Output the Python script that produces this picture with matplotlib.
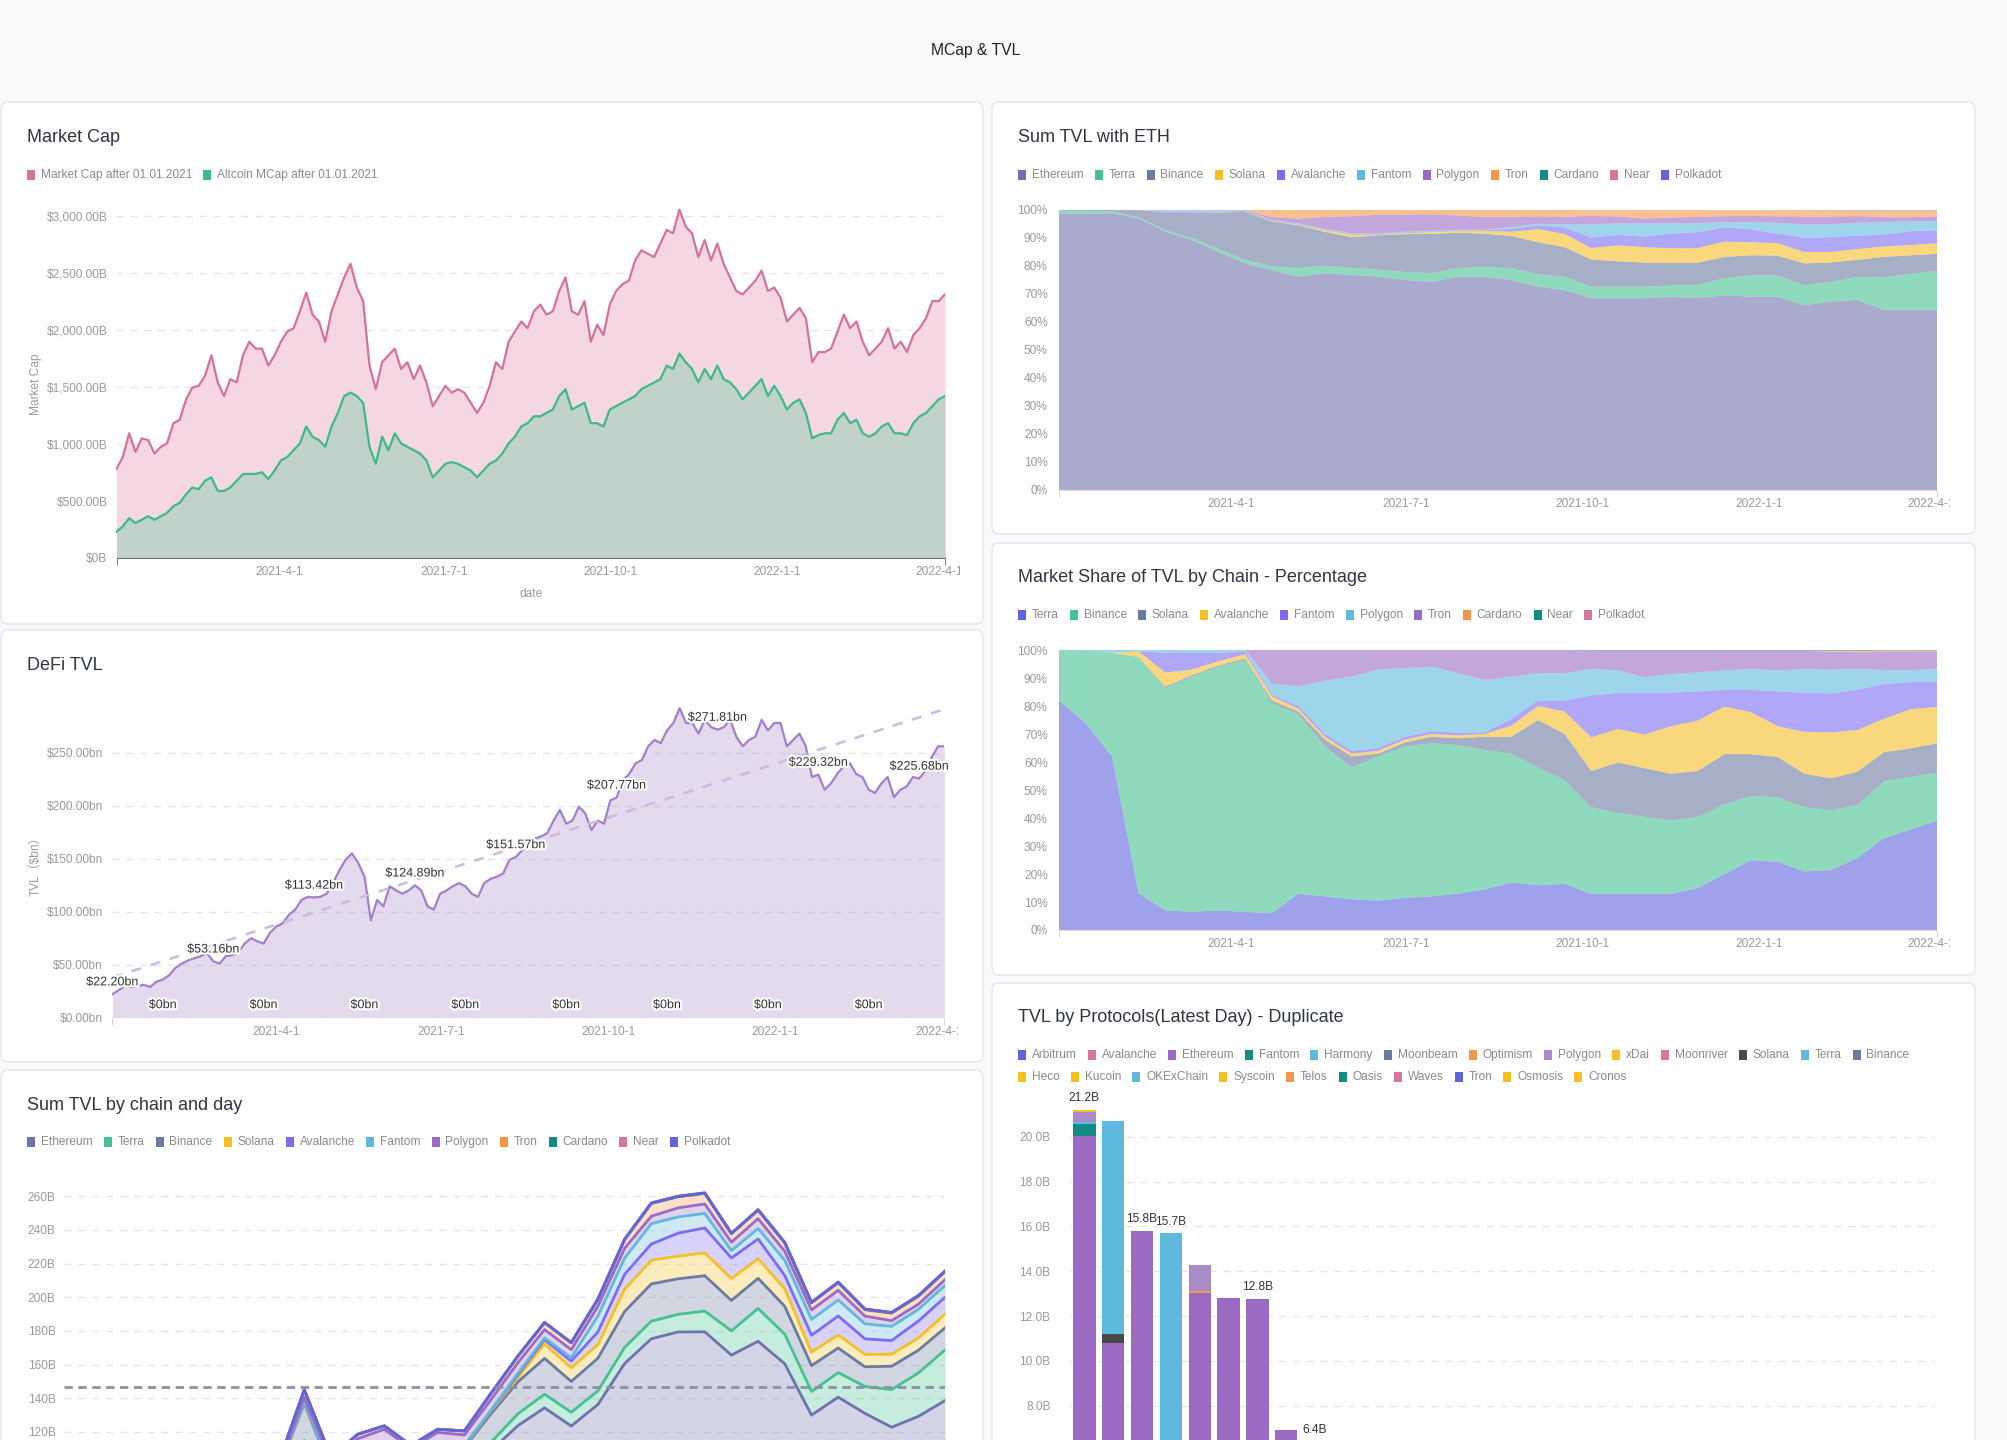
import matplotlib
matplotlib.use('Agg')
import matplotlib.pyplot as plt
import matplotlib.patheffects as pe
from matplotlib.patches import FancyBboxPatch, Rectangle
from matplotlib.transforms import IdentityTransform, Bbox
import numpy as np
import pandas as pd

plt.rcParams['font.family'] = ['Liberation Sans', 'Noto Sans CJK SC', 'DejaVu Sans']

# ---------------- data ----------------
# Market cap, $B, every ~3.5 days from 2021-01-01 to 2022-04-04
mcap = [783, 887, 1095, 931, 1050, 1036, 917, 976, 1006, 1184,
        1214, 1393, 1497, 1512, 1601, 1780, 1542, 1422, 1571, 1542,
        1780, 1899, 1839, 1839, 1690, 1780, 1899, 1988, 2018, 2167,
        2330, 2137, 2077, 1899, 2167, 2315, 2464, 2583, 2375, 2256,
        1690, 1482, 1720, 1780, 1839, 1660, 1720, 1571, 1690, 1542,
        1333, 1422, 1512, 1452, 1482, 1452, 1363, 1274, 1363, 1512,
        1720, 1660, 1899, 1988, 2077, 2018, 2167, 2226, 2137, 2167,
        2345, 2464, 2167, 2137, 2256, 1899, 2048, 1958, 2226, 2345,
        2405, 2434, 2613, 2702, 2672, 2643, 2762, 2881, 2851, 3059,
        2911, 2851, 2643, 2792, 2613, 2762, 2583, 2464, 2345, 2315,
        2375, 2434, 2524, 2345, 2375, 2286, 2077, 2137, 2196, 2107,
        1720, 1809, 1809, 1839, 1988, 2137, 2018, 2077, 1899, 1780,
        1839, 1899, 2018, 1839, 1899, 1809, 1958, 2018, 2107, 2256,
        2256, 2315]
altcap = [232, 277, 351, 307, 336, 366, 336, 366, 396, 455,
          485, 560, 619, 604, 679, 708, 589, 589, 619, 679,
          738, 738, 738, 753, 693, 768, 857, 887, 946, 1006,
          1155, 1065, 1036, 976, 1155, 1274, 1422, 1452, 1422, 1363,
          976, 827, 1065, 946, 1095, 1006, 976, 946, 917, 857,
          708, 768, 827, 842, 827, 798, 768, 708, 768, 827,
          857, 917, 1006, 1065, 1155, 1184, 1244, 1244, 1274, 1304,
          1422, 1482, 1304, 1333, 1363, 1184, 1184, 1155, 1304, 1333,
          1363, 1393, 1422, 1482, 1512, 1542, 1571, 1690, 1660, 1795,
          1720, 1660, 1542, 1660, 1571, 1690, 1571, 1542, 1482, 1393,
          1452, 1512, 1571, 1422, 1512, 1422, 1304, 1363, 1393, 1274,
          1051, 1080, 1095, 1095, 1214, 1274, 1184, 1214, 1095, 1065,
          1095, 1155, 1184, 1095, 1095, 1080, 1184, 1244, 1274, 1333,
          1393, 1422]

# DeFi TVL, $bn
defi_tvl = [22.20, 26, 30, 29, 30, 31, 29, 34, 36, 40,
            47, 51, 54, 56, 58, 61, 53.16, 51, 58, 59,
            62, 70, 75, 72, 70, 80, 86, 89, 97, 102,
            111, 114, 113.42, 114, 117, 127, 139, 149, 155, 146,
            133, 92, 111, 105, 124, 120, 117, 120, 124.89, 120,
            105, 102, 117, 120, 124, 127, 124, 117, 114, 127,
            131, 133, 136, 149, 151.57, 158, 164, 169, 171, 174,
            186, 196, 183, 186, 199, 193, 177, 186, 183, 205,
            207.77, 224, 230, 240, 243, 256, 262, 259, 271, 278,
            292, 278, 278, 268, 281, 274, 271.81, 274, 281, 265,
            256, 262, 265, 281, 271, 278, 278, 256, 262, 268,
            256, 227, 229.32, 215, 221, 230, 237, 240, 230, 227,
            215, 212, 221, 227, 208, 215, 218, 227, 225.68, 233,
            246, 256, 256]
defi_trend = [38, 291]
defi_avg_other = [0] * len(defi_tvl)

# chain TVL, every ~2 weeks from 2021-01-01 to 2022-04-04
total_tvl = [22, 30, 33, 48, 55, 60, 62, 75, 100, 145, 105, 118.6, 123.6, 112, 121.6, 120.6,
             143, 165, 185, 173, 199, 234.5, 256, 260, 262, 238, 252, 232.5, 197, 209,
             193, 191, 201, 215.6]
tvl_avg_line = 147
eth_share = [98.6, 98.8, 98.8, 97, 92.3, 89.3, 85, 81, 78.6, 76.2, 77.4, 76.8, 76.2, 75, 74.4,
             76.2, 76.2, 75, 72.6, 71.4, 68.5, 68.5, 68.5, 69, 68.5, 69.6, 69, 69, 66, 67.3,
             67.9, 64.3, 64.3, 64.3]
# share of non-ETH TVL, %
terra_s = [82, 74, 62, 13, 7, 6.5, 7, 6.5, 6, 13, 12, 11, 10.5, 11.5, 12, 13, 14.5, 17, 16,
           16.5, 13, 13, 13, 13, 15, 20, 25, 24.5, 21, 21.5, 26, 33, 36, 39]
binance_s = [18, 26, 37, 84, 79, 84, 87, 90, 75, 64, 53.5, 47, 51.5, 54, 54.7, 53, 49.8, 46,
             42, 37, 31, 29, 27.5, 26.3, 25.5, 25, 23, 23, 23, 21.5, 19, 20.5, 18.8, 17]
solana_s = [0, 0, 0, 0, 0.5, 0.5, 0.5, 0.5, 1, 1, 2.5, 4, 1, 1.5, 2.3, 2.5, 4.7, 6, 17, 16.5,
            13, 18, 17.5, 16.7, 16.5, 18, 15, 14.5, 12, 11.5, 12, 10.5, 10.2, 10.5]
avalanche_s = [0, 0, 0, 2, 5, 2, 1.5, 1.5, 1.5, 1, 1, 1, 1, 1, 1, 1, 1, 4, 5, 8, 12, 12, 12,
               17, 18, 17, 15, 11, 15, 16.5, 15, 12, 14, 13]
fantom_s = [0, 0, 0, 0, 7, 6, 3, 1, 0.5, 1, 1, 1, 1, 1, 1, 1, 0.5, 2.5, 2, 4, 15, 13, 15, 12,
            10.5, 6, 8, 12.5, 14, 14, 14.5, 12.5, 9.7, 9]
polygon_s = [0, 0, 1, 0.5, 1, 1, 1, 0.5, 4, 7, 19, 26.5, 28, 24.5, 23, 21.2, 18.8, 15, 9.7,
             9.7, 9.5, 8, 5.5, 6.7, 6.8, 7, 7.5, 7.5, 8.5, 8.5, 7.5, 5, 4.3, 4.5]
tron_s = [0, 0, 0, 0, 0, 0, 0, 0, 12, 13, 11, 9.5, 7, 6.5, 6, 8.3, 10.7, 9.5, 8.3, 8.3, 6.5,
          7, 9.5, 8.3, 7.7, 7, 6.5, 7, 6.5, 6.5, 6, 6.5, 6.5, 6]
cardano_s = [0] * 29 + [0.3, 0.5, 0.3, 0.3, 0.3]
near_s = [0] * 20 + [0.3] * 14
polkadot_s = [0] * 31 + [0.1, 0.1, 0.1]

chains = ['Terra', 'Binance', 'Solana', 'Avalanche', 'Fantom', 'Polygon', 'Tron',
          'Cardano', 'Near', 'Polkadot']

# TVL by protocol (latest day), $B per chain
protocols = ['Curve', 'Lido', 'MakerDAO', 'Anchor', 'AAVE', 'Convex Finance', 'Instadapp',
             'Compound', 'Uniswap', 'PancakeSwap', 'JustLend', 'Abracadabra', 'SushiSwap',
             'Yearn Finance', 'Balancer', 'Trader Joe', 'Astroport', 'Venus', 'Frax', 'Tokemak',
             'Benqi', 'Liquity', 'Marinade', 'VVS Finance', 'Osmosis', 'Raydium',
             'Alpaca Finance', 'Bancor', 'Alchemix', 'Tarot']
tvl_arbitrum = {'Curve': 0.02, 'SushiSwap': 0.1, 'Balancer': 0.05}
tvl_avalanche = {'Curve': 0.01, 'Trader Joe': 3.2, 'Benqi': 2.2}
tvl_ethereum = {'Curve': 20.0, 'Lido': 10.8, 'MakerDAO': 15.8, 'AAVE': 13.05,
                'Convex Finance': 12.82, 'Instadapp': 12.78, 'Compound': 6.9, 'Uniswap': 6.4,
                'Abracadabra': 3.4, 'SushiSwap': 3.5, 'Yearn Finance': 3.9, 'Balancer': 3.45,
                'Frax': 2.6, 'Tokemak': 2.4, 'Liquity': 2.0, 'Bancor': 1.4, 'Alchemix': 1.3}
tvl_fantom = {'Curve': 0.55, 'Abracadabra': 0.9, 'Tarot': 1.2}
tvl_harmony = {'Curve': 0.07}
tvl_optimism = {'AAVE': 0.05}
tvl_polygon = {'Curve': 0.45, 'AAVE': 1.2, 'SushiSwap': 0.5}
tvl_xdai = {'Curve': 0.1}
tvl_solana = {'Lido': 0.42, 'Marinade': 1.9, 'Raydium': 1.6}
tvl_terra = {'Lido': 9.5, 'Anchor': 15.7, 'Astroport': 3.0}
tvl_binance = {'PancakeSwap': 5.6, 'Venus': 2.8, 'Alpaca Finance': 1.5}
tvl_tron = {'JustLend': 5.0}
tvl_osmosis = {'Osmosis': 1.7}
tvl_cronos = {'VVS Finance': 1.8}
labelled_bars = ['Curve', 'MakerDAO', 'Anchor', 'Instadapp', 'Uniswap']

# ---------------- colours ----------------
SLATE, GREEN, GRAYB, YELLOW = '#7072ad', '#45c192', '#6b7a9f', '#f6bf26'
VIOLET, LBLUE, PURPLE, ORANGE = '#7c6cf4', '#5fb9dc', '#9b6bc4', '#f79646'
TEAL, PINK, BLUE = '#138a85', '#d6769d', '#6064df'

colors_eth = [SLATE, GREEN, GRAYB, YELLOW, VIOLET, LBLUE, PURPLE, ORANGE, TEAL, PINK, BLUE]
colors_noeth = [BLUE, GREEN, GRAYB, YELLOW, VIOLET, LBLUE, PURPLE, ORANGE, TEAL, PINK]

proto_chains = [('Arbitrum', BLUE, tvl_arbitrum), ('Avalanche', PINK, tvl_avalanche),
                ('Ethereum', PURPLE, tvl_ethereum), ('Fantom', TEAL, tvl_fantom),
                ('Harmony', LBLUE, tvl_harmony), ('Moonbeam', GRAYB, {}),
                ('Optimism', ORANGE, tvl_optimism), ('Polygon', '#a98bc8', tvl_polygon),
                ('xDai', YELLOW, tvl_xdai), ('Moonriver', PINK, {}),
                ('Solana', '#4a4a4a', tvl_solana), ('Terra', LBLUE, tvl_terra),
                ('Binance', GRAYB, tvl_binance), ('Heco', YELLOW, {}), ('Kucoin', YELLOW, {}),
                ('OKExChain', LBLUE, {}), ('Syscoin', YELLOW, {}), ('Telos', ORANGE, {}),
                ('Oasis', TEAL, {}), ('Waves', PINK, {}), ('Tron', BLUE, tvl_tron),
                ('Osmosis', YELLOW, tvl_osmosis), ('Cronos', YELLOW, tvl_cronos)]

# ---------------- layout helpers ----------------
W, H = 2008, 1440
fig = plt.figure(figsize=(W / 100, H / 100), dpi=100)
fig.patch.set_facecolor('#f8f9fb')
renderer = fig.canvas.get_renderer()

TICK = '#9a9a9a'
FS = 8.6


def ax_at(x0, y0, x1, y1):
    a = fig.add_axes([x0 / W, 1 - y1 / H, (x1 - x0) / W, (y1 - y0) / H])
    a.set_facecolor('none')
    return a


def panel(x0, y0, x1, y1, title):
    fig.add_artist(FancyBboxPatch((x0, H - y1), x1 - x0, y1 - y0,
                                  boxstyle='round,pad=0,rounding_size=7',
                                  transform=IdentityTransform(), fc='white',
                                  ec='#e7e9ee', lw=1.2, zorder=-5))
    fig.text((x0 + 26) / W, 1 - (y0 + 35) / H, title, fontsize=13, color='#2f3542',
             va='center')


def legend(x0, y0, items, row_h=22):
    y = y0
    for row in items:
        x = x0
        for name, col in row:
            t = fig.text(0, 0, name, fontsize=FS, color='#8a8a8a', va='center')
            w = t.get_window_extent(renderer).width
            fig.add_artist(Rectangle((x, H - y - 5), 8, 10, transform=IdentityTransform(),
                                     fc=col, ec='none'))
            t.set_position(((x + 14) / W, 1 - y / H))
            x += 14 + w + 11
        y += row_h


def style(ax, ypad=6.5, xpad=6, spine='#6e7079'):
    for s in ['top', 'right', 'left']:
        ax.spines[s].set_visible(False)
    if spine:
        ax.spines['bottom'].set_color(spine)
    else:
        ax.spines['bottom'].set_visible(False)
    ax.tick_params(axis='y', length=0, pad=ypad, labelsize=FS, labelcolor=TICK)
    ax.tick_params(axis='x', which='major', length=0, pad=xpad, labelsize=FS, labelcolor=TICK)
    ax.grid(axis='y', color='#e6e6e6', ls=(0, (5, 5)), lw=1)
    ax.set_axisbelow(True)


date_ticks = pd.to_datetime(['2021-04-01', '2021-07-01', '2021-10-01', '2022-01-01', '2022-04-01'])
date_labels = ['2021-4-1', '2021-7-1', '2021-10-1', '2022-1-1', '2022-4-1']


def date_axis(ax, dates, clip_x, tickcol='#6e7079'):
    ax.set_xlim(dates[0], dates[-1])
    ax.set_xticks(date_ticks)
    ax.set_xticklabels(date_labels)
    ax.set_xticks([dates[0], dates[-1]], minor=True)
    ax.tick_params(axis='x', which='minor', length=5, color=tickcol)
    for lbl in ax.get_xticklabels():
        lbl.set_clip_box(Bbox.from_extents(0, 0, clip_x, H))
        lbl.set_clip_on(True)


fig.text(976 / W, 1 - 51 / H, 'MCap & TVL', fontsize=11.3, color='#222222', ha='center',
         va='center')

# ---------------- panel 1: market cap ----------------
panel(1, 102, 983, 624, 'Market Cap')
legend(27, 175, [[('Market Cap after 01.01.2021', '#d4739a'),
                  ('Altcoin MCap after 01.01.2021', '#3dba87')]])
mc_dates = pd.date_range('2021-01-01', '2022-04-04', periods=len(mcap))
ax1 = ax_at(116.5, 205, 945, 558)
ax1.fill_between(mc_dates, mcap, color='#f4d7e2', lw=0)
ax1.fill_between(mc_dates, altcap, color='#c1d2cb', lw=0)
ax1.plot(mc_dates, mcap, color='#d4739a', lw=1.6)
ax1.plot(mc_dates, altcap, color='#3dba87', lw=1.6)
ax1.set_ylim(0, 3100)
ax1.set_yticks(range(0, 3001, 500))
ax1.set_yticklabels(['$0B'] + [f'${v:,.2f}B' for v in range(500, 3001, 500)])
style(ax1)
date_axis(ax1, mc_dates, 960)
fig.text(36 / W, 1 - 384 / H, 'Market Cap', rotation=90, fontsize=FS, color=TICK,
         ha='center', va='center')
fig.text(531 / W, 1 - 594 / H, 'date', fontsize=FS, color=TICK, ha='center', va='center')

# ---------------- panel 3: DeFi TVL ----------------
panel(1, 630, 983, 1062, 'DeFi TVL')
tvl_dates = pd.date_range('2021-01-01', '2022-04-04', periods=len(defi_tvl))
ax3 = ax_at(112.4, 705, 944.4, 1017.7)
ax3.fill_between(tvl_dates, defi_tvl, color='#a07cc5', alpha=0.28, lw=0)
ax3.plot(tvl_dates, defi_tvl, color='#a47fcb', lw=1.6)
ax3.plot([tvl_dates[0], tvl_dates[-1]], defi_trend, color='#cdb9e3', lw=1.8, ls=(0, (4, 4)))
halo = [pe.withStroke(linewidth=3, foreground='white')]
for i in range(0, len(defi_tvl), 16):
    ax3.annotate(f'${defi_tvl[i]:.2f}bn', (tvl_dates[i], defi_tvl[i]), xytext=(0, 8.5),
                 textcoords='offset points', ha='center', va='center', fontsize=9,
                 color='#333333', path_effects=halo, annotation_clip=False)
for i in range(8, len(defi_tvl) - 8, 16):
    ax3.annotate(f'${defi_avg_other[i]}bn', (tvl_dates[i], defi_avg_other[i]),
                 xytext=(0, 9), textcoords='offset points', ha='center', va='center',
                 fontsize=9, color='#333333', path_effects=halo)
ax3.set_ylim(0, 295)
ax3.set_yticks(range(0, 251, 50))
ax3.set_yticklabels([f'${v:.2f}bn' for v in range(0, 251, 50)])
style(ax3, ypad=7, spine=None)
date_axis(ax3, tvl_dates, 958, tickcol='#cccccc')
fig.text(36 / W, 1 - 863 / H, 'TVL（$bn）', rotation=90, fontsize=FS, color=TICK,
         ha='center', va='center')

# ---------------- derived chain TVL ----------------
ch_dates = pd.date_range('2021-01-01', '2022-04-04', periods=len(total_tvl))
total = np.array(total_tvl)
eth = np.array(eth_share) / 100
shares = np.array([terra_s, binance_s, solana_s, avalanche_s, fantom_s, polygon_s, tron_s,
                   cardano_s, near_s, polkadot_s], dtype=float)
shares = shares / shares.sum(axis=0)
chain_vals = shares * total * (1 - eth)
eth_vals = total * eth
all_vals = np.vstack([eth_vals, chain_vals])
names_eth = ['Ethereum'] + chains

# ---------------- panel 2: share with ETH ----------------
panel(992, 102, 1975, 534, 'Sum TVL with ETH')
legend(1018, 175, [list(zip(names_eth, colors_eth))])
ax2 = ax_at(1058.8, 210, 1937.4, 490)
ax2.stackplot(ch_dates, all_vals / all_vals.sum(axis=0) * 100, colors=colors_eth, alpha=0.6,
              lw=0)
ax2.set_ylim(0, 100)
ax2.set_yticks(range(0, 101, 10))
ax2.set_yticklabels([f'{v}%' for v in range(0, 101, 10)])
style(ax2, ypad=8, spine='#dddddd')
ax2.grid(False)
date_axis(ax2, ch_dates, 1950, tickcol='#cccccc')

# ---------------- panel 4: share without ETH ----------------
panel(992, 543, 1975, 975, 'Market Share of TVL by Chain - Percentage')
legend(1018, 615, [list(zip(chains, colors_noeth))])
ax4 = ax_at(1058.8, 650, 1937.4, 930)
ax4.stackplot(ch_dates, shares * 100, colors=colors_noeth, alpha=0.6, lw=0)
ax4.set_ylim(0, 100)
ax4.set_yticks(range(0, 101, 10))
ax4.set_yticklabels([f'{v}%' for v in range(0, 101, 10)])
style(ax4, ypad=8, spine='#dddddd')
ax4.grid(False)
date_axis(ax4, ch_dates, 1950, tickcol='#cccccc')

# ---------------- panel 5: stacked TVL by chain ----------------
panel(1, 1070, 983, 1460, 'Sum TVL by chain and day')
legend(27, 1142, [list(zip(names_eth, colors_eth))])
ax5 = ax_at(64, 1171, 945, 1634)
cum = np.cumsum(all_vals, axis=0)
prev = np.zeros_like(total)
for i, col in enumerate(colors_eth):
    ax5.fill_between(ch_dates, prev, cum[i], color=col, alpha=0.3, lw=0)
    prev = cum[i]
for i, col in enumerate(colors_eth):
    ax5.plot(ch_dates, cum[i], color=col, lw=2)
ax5.axhline(tvl_avg_line, color='#8b90a6', lw=2, ls=(0, (3, 2)))
ax5.set_xlim(ch_dates[0], ch_dates[-1])
ax5.set_ylim(0, 275)
# only ticks that fall inside the visible part of the panel
ax5.set_yticks(range(120, 261, 20))
ax5.set_yticklabels([f'{v}B' for v in range(120, 261, 20)])
style(ax5, ypad=6, spine=None)
ax5.set_xticks([])

# ---------------- panel 6: TVL by protocol ----------------
panel(992, 983, 1975, 1460, 'TVL by Protocols(Latest Day) - Duplicate')
leg_items = [(n, c) for n, c, _ in proto_chains]
legend(1018, 1055, [leg_items[:13], leg_items[13:]])
ax6 = ax_at(1070, 1092, 1935, 1585)
xpos = np.arange(len(protocols))
bottom = np.zeros(len(protocols))
for name, col, vals in proto_chains:
    v = np.array([vals.get(p, 0.0) for p in protocols])
    if v.sum() == 0:
        continue
    ax6.bar(xpos, v, bottom=bottom, width=0.77, color=col, lw=0)
    bottom += v
for i, p in enumerate(protocols):
    if p in labelled_bars:
        ax6.text(i, bottom[i] + 0.25, f'{bottom[i]:.1f}B', ha='center', va='bottom',
                 fontsize=FS, color='#333333')
ax6.set_xlim(-0.5, len(protocols) - 0.5)
ax6.set_ylim(0, 22)
ax6.set_yticks(np.arange(8, 21, 2))
ax6.set_yticklabels([f'{v:.1f}B' for v in np.arange(8, 21, 2)])
style(ax6, ypad=14, spine=None)
ax6.set_xticks([])

fig.savefig('out.png', dpi=100, facecolor=fig.get_facecolor())
